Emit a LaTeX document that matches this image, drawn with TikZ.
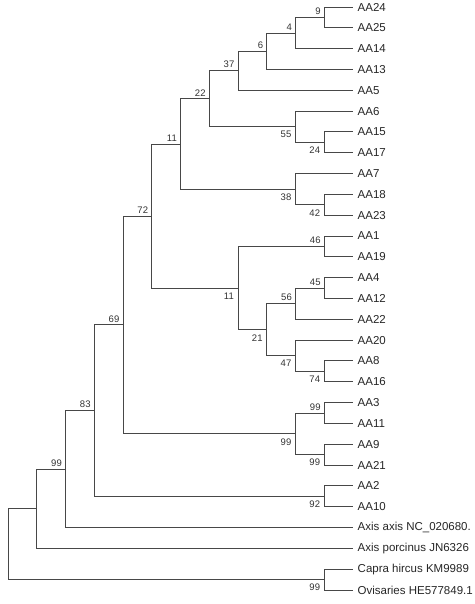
\documentclass[tikz,border=0pt]{standalone}
\usepackage{fontspec}
\setmainfont{Liberation Sans}
\newcommand\PX[1]{8+28.75*#1}
\newcommand\PY[1]{-(7+20.82*#1)}
\begin{document}
\begin{tikzpicture}[x=1pt,y=1pt,
  br/.style={draw=black!72,line width=0.9pt},
  leaf/.style={anchor=west,inner sep=0pt,font=\fontsize{11.5}{13}\selectfont,text=black!85},
  bsa/.style={anchor=south east,inner sep=0pt,font=\fontsize{9.5}{10}\selectfont,text=black!80,xshift=-3.5pt,yshift=2.5pt},
  bsb/.style={anchor=north east,inner sep=0pt,font=\fontsize{9.5}{10}\selectfont,text=black!80,xshift=-4pt,yshift=-4.5pt}]
\useasboundingbox (0,0) rectangle (474,-604);
\clip (0,0) rectangle (474,-604);
% leaves
\foreach \n/\i/\t in {l0/0/AA24,l1/1/AA25,l2/2/AA14,l3/3/AA13,l4/4/AA5,l5/5/AA6,l6/6/AA15,l7/7/AA17,l8/8/AA7,l9/9/AA18,l10/10/AA23,l11/11/AA1,l12/12/AA19,l13/13/AA4,l14/14/AA12,l15/15/AA22,l16/16/AA20,l17/17/AA8,l18/18/AA16,l19/19/AA3,l20/20/AA11,l21/21/AA9,l22/22/AA21,l23/23/AA2,l24/24/AA10,l25/25/Axis axis NC\_020680.,l26/26/Axis porcinus JN6326,l27/27/Capra hircus KM9989,l28/28/Ovisaries HE577849.1}{
  \coordinate (\n) at ({\PX{12}},{\PY{\i}});
  \node[leaf] (t\n) at ([xshift=4.5pt]\n) {\t};
}
% internal nodes
\coordinate (S) at ({\PX{11}},{\PY{0.5}});
\coordinate (R) at ({\PX{10}},{\PY{1.25}});
\coordinate (Q) at ({\PX{9}},{\PY{2.125}});
\coordinate (O) at ({\PX{8}},{\PY{3.0625}});
\coordinate (T) at ({\PX{11}},{\PY{6.5}});
\coordinate (P) at ({\PX{10}},{\PY{5.75}});
\coordinate (L) at ({\PX{7}},{\PY{4.40625}});
\coordinate (N) at ({\PX{11}},{\PY{9.5}});
\coordinate (M) at ({\PX{10}},{\PY{8.75}});
\coordinate (J) at ({\PX{6}},{\PY{6.578125}});
\coordinate (U) at ({\PX{11}},{\PY{11.5}});
\coordinate (Y) at ({\PX{11}},{\PY{13.5}});
\coordinate (W) at ({\PX{10}},{\PY{14.25}});
\coordinate (Z) at ({\PX{11}},{\PY{17.5}});
\coordinate (X) at ({\PX{10}},{\PY{16.75}});
\coordinate (V) at ({\PX{9}},{\PY{15.5}});
\coordinate (K) at ({\PX{8}},{\PY{13.5}});
\coordinate (F) at ({\PX{5}},{\PY{10.0390625}});
\coordinate (H) at ({\PX{11}},{\PY{19.5}});
\coordinate (I) at ({\PX{11}},{\PY{21.5}});
\coordinate (G) at ({\PX{10}},{\PY{20.5}});
\coordinate (D) at ({\PX{4}},{\PY{15.26953}});
\coordinate (E) at ({\PX{11}},{\PY{23.5}});
\coordinate (C) at ({\PX{3}},{\PY{19.38477}});
\coordinate (B) at ({\PX{2}},{\PY{22.19238}});
\coordinate (A) at ({\PX{1}},{\PY{24.09619}});
\coordinate (CO) at ({\PX{11}},{\PY{27.5}});
\coordinate (root) at ({\PX{0}},{\PY{25.79810}});
% branches
\foreach \p/\c in {S/l0,S/l1,R/S,R/l2,Q/R,Q/l3,O/Q,O/l4,T/l6,T/l7,P/l5,P/T,L/O,L/P,
  N/l9,N/l10,M/l8,M/N,J/L,J/M,U/l11,U/l12,Y/l13,Y/l14,W/Y,W/l15,Z/l17,Z/l18,X/l16,X/Z,
  V/W,V/X,K/U,K/V,F/J,F/K,H/l19,H/l20,I/l21,I/l22,G/H,G/I,D/F,D/G,E/l23,E/l24,
  C/D,C/E,B/C,B/l25,A/B,A/l26,CO/l27,CO/l28,root/A,root/CO}{
  \draw[br] (\p) |- (\c);
}
% bootstrap labels
\node[bsa] (bS) at (S) {9};
\node[bsa] (bR) at (R) {4};
\node[bsa] (bQ) at (Q) {6};
\node[bsa] (bO) at (O) {37};
\node[bsa] (bL) at (L) {22};
\node[bsb] (bP) at (P) {55};
\node[bsb] (bT) at (T) {24};
\node[bsa] (bJ) at (J) {11};
\node[bsb] (bM) at (M) {38};
\node[bsb] (bN) at (N) {42};
\node[bsa] (bF) at (F) {72};
\node[bsb] (bK) at (K) {11};
\node[bsa] (bU) at (U) {46};
\node[bsb] (bV) at (V) {21};
\node[bsa] (bW) at (W) {56};
\node[bsa] (bY) at (Y) {45};
\node[bsb] (bX) at (X) {47};
\node[bsb] (bZ) at (Z) {74};
\node[bsa] (bD) at (D) {69};
\node[bsb] (bG) at (G) {99};
\node[bsa] (bH) at (H) {99};
\node[bsb] (bI) at (I) {99};
\node[bsa] (bC) at (C) {83};
\node[bsb] (bE) at (E) {92};
\node[bsa] (bB) at (B) {99};
\node[bsb] (bCO) at (CO) {99};
\end{tikzpicture}
\end{document}
